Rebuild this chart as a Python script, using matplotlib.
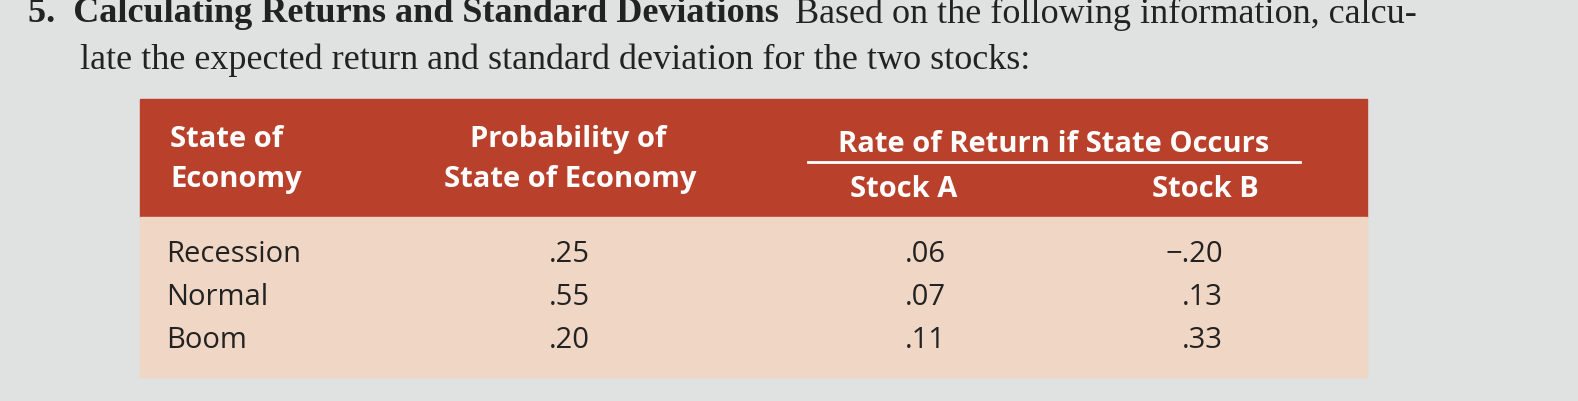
import matplotlib
matplotlib.use("Agg")
import matplotlib.pyplot as plt
from matplotlib.patches import Rectangle

states = ["Recession", "Normal", "Boom"]
probs = [".25", ".55", ".20"]
stock_a = [".06", ".07", ".11"]
stock_b = ["\u2212.20", ".13", ".33"]

fig = plt.figure(figsize=(15.78, 4.02), dpi=100)
fig.patch.set_facecolor("#dfe2e1")
ax = fig.add_axes([0, 0, 1, 1])
ax.set_xlim(0, 1578); ax.set_ylim(402, 0); ax.axis("off")

serif = "Liberation Serif"
sans = "Open Sans"
ax.text(28, 14, "5.  Calculating Returns and Standard Deviations", fontsize=26, fontweight="bold",
        family=serif, va="center", color="#222")
ax.text(795, 14, "Based on the following information, calcu-", fontsize=26, family=serif,
        va="center", color="#222")
ax.text(80, 60, "late the expected return and standard deviation for the two stocks:", fontsize=26,
        family=serif, va="center", color="#222")

ax.add_patch(Rectangle((140, 100), 1227, 118, color="#b9412c"))
ax.add_patch(Rectangle((140, 218), 1227, 160, color="#f0d6c4"))

hk = dict(fontsize=21, fontweight="bold", family=sans, color="white", va="center")
ax.text(170, 140, "State of", ha="left", **hk)
ax.text(170, 180, "Economy", ha="left", **hk)
ax.text(568, 140, "Probability of", ha="center", **hk)
ax.text(570, 180, "State of Economy", ha="center", **hk)
ax.text(1054, 145, "Rate of Return if State Occurs", ha="center", **hk)
ax.plot([808, 1300], [163, 163], color="white", lw=2)
ax.text(904, 190, "Stock A", ha="center", **hk)
ax.text(1205, 190, "Stock B", ha="center", **hk)

bk = dict(fontsize=21, family=sans, color="#222", va="center")
for i, (s, p, a, b) in enumerate(zip(states, probs, stock_a, stock_b)):
    y = 255 + i * 43
    ax.text(166, y, s, ha="left", **bk)
    ax.text(590, y, p, ha="right", **bk)
    ax.text(946, y, a, ha="right", **bk)
    ax.text(1223, y, b, ha="right", **bk)

fig.savefig("out.png", dpi=100, facecolor=fig.get_facecolor())
